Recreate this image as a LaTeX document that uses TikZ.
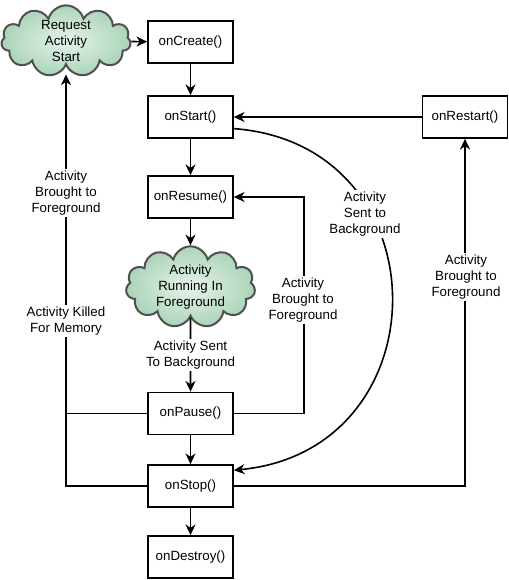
\documentclass[tikz,border=0pt]{standalone}
\usepackage{fontspec}
\setmainfont{Liberation Sans}
\usepackage{tikz}
\usetikzlibrary{shapes,arrows,arrows.meta, positioning}
\definecolor{cloudhi}{RGB}{230,243,234}
\definecolor{cloudlo}{RGB}{170,212,184}
\definecolor{cloudrim}{RGB}{80,80,80}
\tikzstyle{fbox} = [rectangle, draw, line width=1.3pt, minimum width=63.75pt, minimum height=31.5pt, inner sep=0pt]
\tikzstyle{cnode} = [cloud, cloud puffs=11, cloud ignores aspect, draw=cloudrim, line width=1.5pt, shade, inner color=cloudhi, outer color=cloudlo, minimum width=97pt, minimum height=52pt, align=center, inner sep=0pt]
\tikzstyle{tlabel} = [fill=white, align=center, inner sep=1pt]
\tikzstyle{line} = [draw, line width=1.2pt]
\tikzstyle{arrow} = [draw, line width=1.2pt, -{Stealth[length=8pt, width=7.5pt, inset=2.5pt]}]

\begin{document}
\begin{tikzpicture}[x=0.75pt, y=-0.75pt, font=\fontsize{10}{12}\selectfont]
			\useasboundingbox (0, 0) rectangle (508, 580);
			\node [cnode] (request) at (66, 41) {Request\\Activity\\Start};
			\node [fbox] (oncreate) at (190.5, 42) {onCreate()};
			\node [fbox] (onstart) at (190.5, 117) {onStart()};
			\node [fbox] (onresume) at (190.5, 197) {onResume()};
			\node [cnode] (running) at (190.5, 287) {Activity\\Running In\\Foreground};
			\node [fbox] (onpause) at (190.5, 413.5) {onPause()};
			\node [fbox] (onstop) at (190.5, 486) {onStop()};
			\node [fbox] (ondestroy) at (190.5, 557) {onDestroy()};
			\node [fbox] (onrestart) at (465, 117) {onRestart()};
			
			\path [arrow] (request) -- (oncreate);
			\path [arrow] (oncreate) -- (onstart);
			\path [arrow] (onstart) -- (onresume);
			\path [arrow] (onresume) -- (running);
			\path [arrow] (running) -- (onpause);
			\path [arrow] (onpause) -- (onstop);
			\path [arrow] (onstop) -- (ondestroy);
			\path [arrow] (onrestart) -- (onstart);
			\path [arrow] (onstart.-15) .. controls +(211, 16) and +(210, -20) .. (onstop.20);
			\path [arrow] (onpause.east) -- ++(70, 0) |- (onresume.east);
			\path [arrow] (onstop.east) -| (onrestart.south);
			\path [line] (onpause.west) -- (onpause.west -| request.south);
			\path [arrow, shorten >=6pt] (onstop.west) -| (request.south);
			
			\node [tlabel] (sentbg) at (365, 214) {Activity\\Sent to\\Background};
			\node [tlabel] (senttobg) at (190.5, 355) {Activity Sent\\To Background};
			\node [tlabel] (broughtmid) at (303, 300) {Activity\\Brought to\\Foreground};
			\node [tlabel] (broughtright) at (466, 277) {Activity\\Brought to\\Foreground};
			\node [tlabel] (broughtleft) at (66, 193) {Activity\\Brought to\\Foreground};
			\node [tlabel] (killed) at (66, 321) {Activity Killed\\For Memory};
		\end{tikzpicture}
\end{document}
